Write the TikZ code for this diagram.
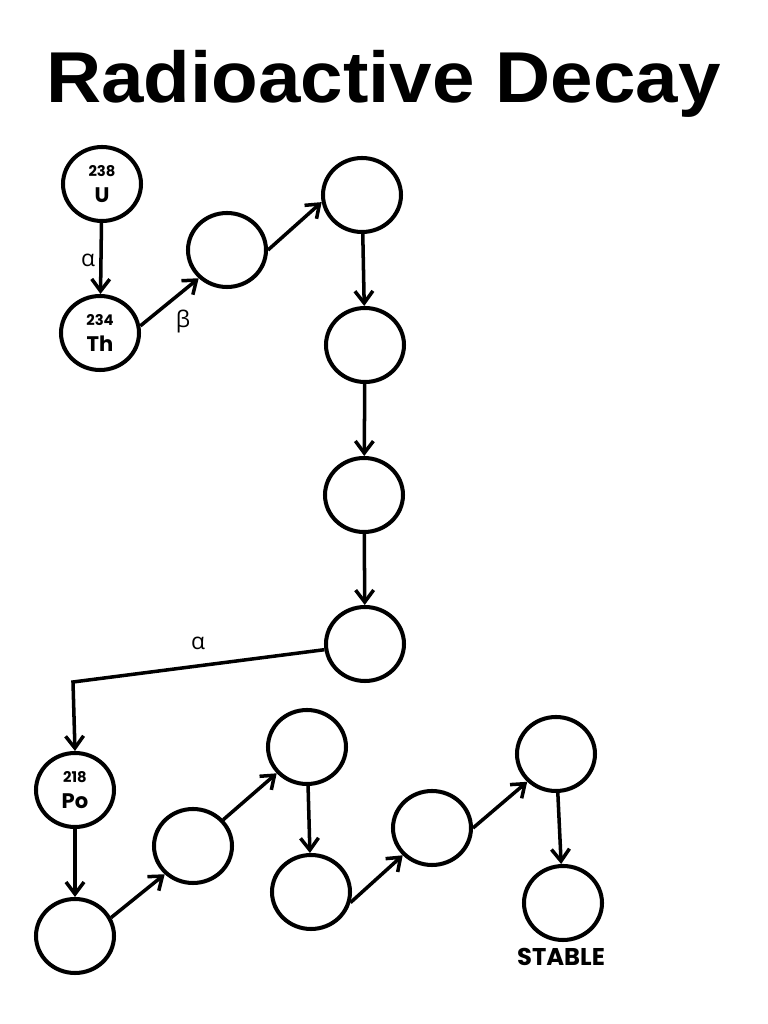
\documentclass[tikz,border=0pt]{standalone}
\usepackage{fontspec}
\setmainfont{Poppins}
\newfontfamily\titlefont{Liberation Sans}
\newfontfamily\greekfont{Open Sans}
\usetikzlibrary{shapes.geometric,arrows.meta}
\newcommand{\isotope}[2]{{\fontsize{4.2}{4}\selectfont #1}\\[-4.6pt]{\fontsize{6}{6}\selectfont #2}}

\begin{document}
\begin{tikzpicture}[
        nucleus/.style={draw, ellipse, line width=1.15pt, minimum width=0.78cm, minimum height=0.74cm, inner sep=0pt, align=center, font=\bfseries},
        decay/.style={line width=1pt, -{Straight Barb[length=1.2mm,width=1.8mm]}},
        emit/.style={font=\greekfont\fontsize{6.5}{7}\selectfont}
    ]
            \useasboundingbox (0,0) rectangle (7.68,10.24);
            \node[font=\titlefont\bfseries\fontsize{20.5}{24}\selectfont, anchor=base] (title) at (3.835,9.21) {\scalebox{1.06}[1]{Radioactive Decay}};
            % uranium chain, top part
            \node[nucleus] (U) at (1.02,8.40) {\isotope{238}{U}};
            \node[nucleus] (Th) at (1.00,6.91) {\isotope{234}{Th}};
            \node[nucleus] (n3) at (2.27,7.74) {};
            \node[nucleus] (n4) at (3.62,8.29) {};
            \node[nucleus] (n5) at (3.65,6.79) {};
            \node[nucleus] (n6) at (3.64,5.29) {};
            \node[nucleus] (n7) at (3.65,3.80) {};
            % polonium and below
            \node[nucleus] (Po) at (0.75,2.34) {\isotope{218}{Po}};
            \node[nucleus] (n9) at (0.75,0.88) {};
            \node[nucleus] (n10) at (1.93,1.78) {};
            \node[nucleus] (n11) at (3.07,2.77) {};
            \node[nucleus] (n12) at (3.11,1.32) {};
            \node[nucleus] (n13) at (4.32,1.96) {};
            \node[nucleus] (n14) at (5.56,2.70) {};
            \node[nucleus] (n15) at (5.63,1.21) {};
            \node[font=\bfseries\fontsize{6.9}{8}\selectfont] (stable) at (5.61,0.67) {STABLE};
            \coordinate (bend) at (0.73,3.42);
            % decays
            \draw[decay] (U) -- (Th);
            \draw[decay] (Th.10) -- (n3.225);
            \draw[decay] (n3.east) -- (n4.190);
            \draw[decay] (n4) -- (n5);
            \draw[decay] (n5) -- (n6);
            \draw[decay] (n6) -- (n7);
            \draw[decay] (n7.188) -- (bend) -- (Po.north);
            \draw[decay] (Po) -- (n9);
            \draw[decay] (n9.27) -- (n10.225);
            \draw[decay] (n10) -- (n11);
            \draw[decay] (n11) -- (n12);
            \draw[decay] (n12.345) -- (n13.223);
            \draw[decay] (n13.east) -- (n14.224);
            \draw[decay] (n14) -- (n15);
            \node[emit] (a1) at (0.88,7.64) {α};
            \node[emit] (b1) at (1.83,7.02) {β};
            \node[emit] (a2) at (1.98,3.81) {α};
\end{tikzpicture}
\end{document}
